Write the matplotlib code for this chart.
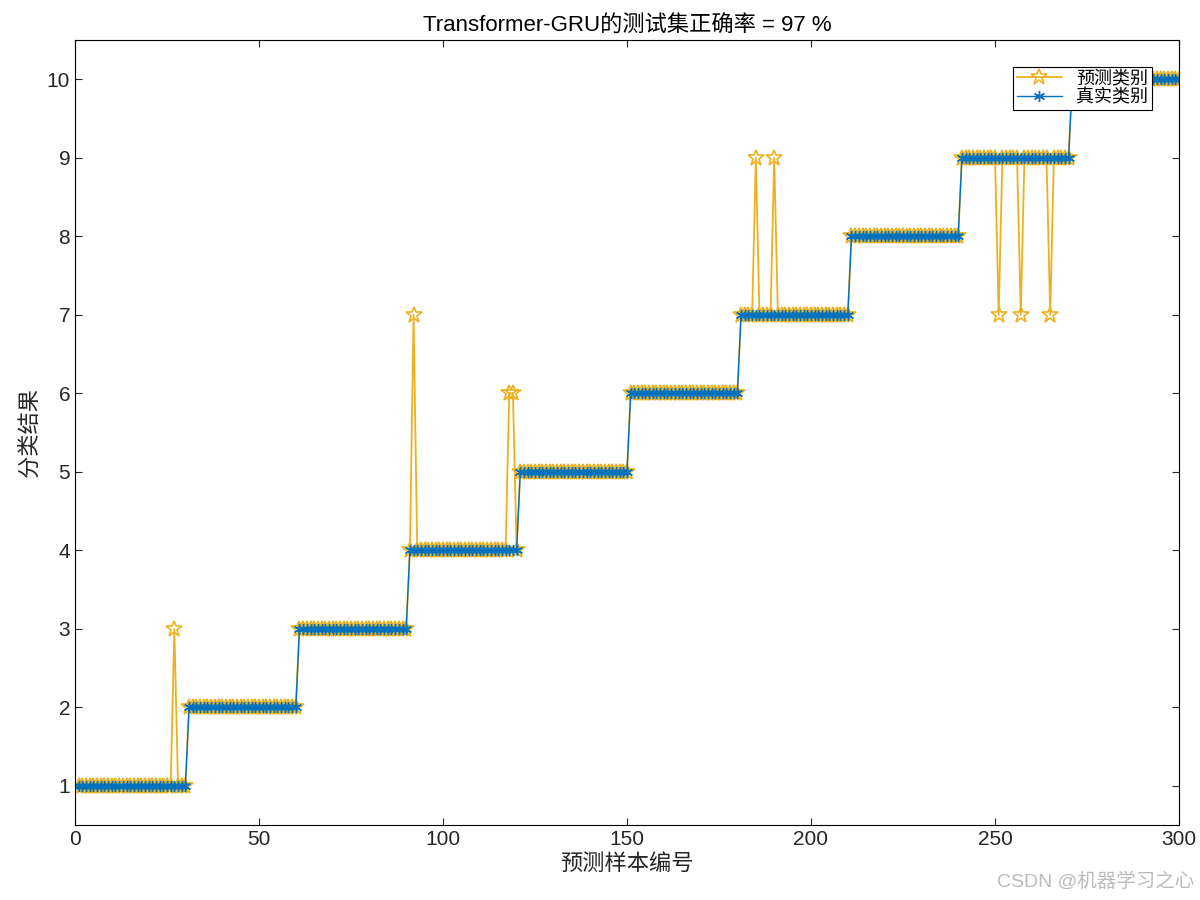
import matplotlib
matplotlib.use('Agg')
import matplotlib.pyplot as plt
import numpy as np

plt.rcParams['font.family'] = ['Liberation Sans', 'Noto Sans CJK SC', 'DejaVu Sans']

n_per_class = 30
classes = list(range(1, 11))
true_labels = np.repeat(classes, n_per_class)
# misclassified samples (1-based index) and predicted class
err_idx = [27, 92, 118, 119, 185, 190, 251, 257, 265]
err_pred = [3, 7, 6, 6, 9, 9, 7, 7, 7]

pred_labels = true_labels.copy()
for i, p in zip(err_idx, err_pred):
    pred_labels[i - 1] = p
x = np.arange(1, len(true_labels) + 1)
acc = round(100 * np.mean(pred_labels == true_labels))

fig = plt.figure(figsize=(12, 9), dpi=100)
ax = fig.add_axes([0.0625, 0.0833, 0.92, 0.8723])
ax.plot(x, pred_labels, '-*', color='#EDB120', markersize=12, markerfacecolor='none',
        markeredgewidth=1.2, linewidth=1.3, label='预测类别')
ax.plot(x, true_labels, '-', marker=(6, 2, 0), color='#0072BD', markersize=8,
        markeredgewidth=1, linewidth=1, label='真实类别')
ax.set_xlim(0, 300)
ax.set_ylim(0.5, 10.5)
ax.set_yticks(range(1, 11))
ax.set_xticks(range(0, 301, 50))
ax.tick_params(direction='in', labelsize=15, top=True, right=True, length=5, colors='#262626')
ax.grid(False)
ax.set_xlabel('预测样本编号', fontsize=16, color='#262626')
ax.set_ylabel('分类结果', fontsize=16, color='#262626')
ax.set_title(f'Transformer-GRU的测试集正确率 = {acc} %', fontsize=16)
leg = ax.legend(loc='upper right', fontsize=13, fancybox=False, framealpha=1,
                edgecolor='black', borderaxespad=1.5, handlelength=2.5,
                borderpad=0.2, labelspacing=0.1)
leg.get_frame().set_linewidth(0.8)
fig.text(0.995, 0.01, 'CSDN @机器学习之心', ha='right', va='bottom', fontsize=14, color='#bbbbbb')
fig.savefig('out.png')
